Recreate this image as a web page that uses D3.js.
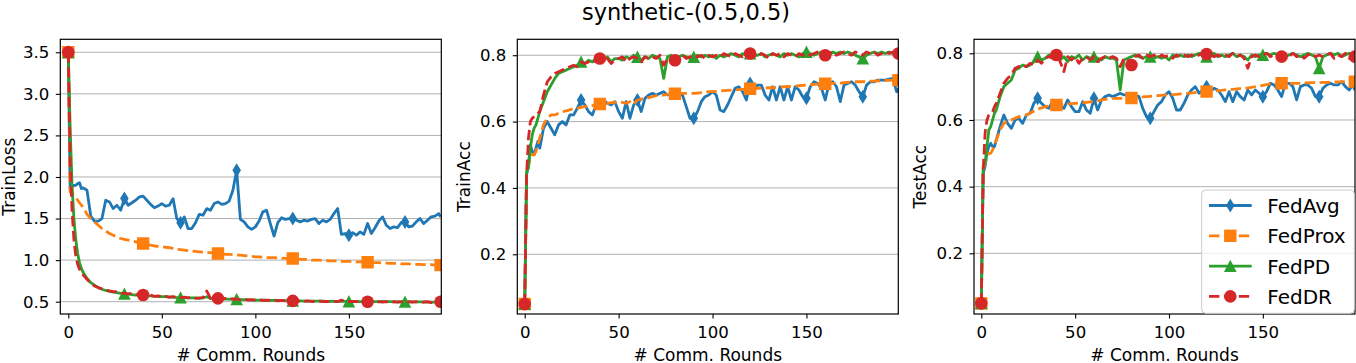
<!DOCTYPE html>
<html>
<head>
<meta charset="utf-8">
<script src="https://cdn.jsdelivr.net/npm/d3@7"></script>
<style>
  body { margin: 0; background: #fff; }
  svg { display: block; font-family: "DejaVu Sans", sans-serif; }
</style>
</head>
<body>
<div id="chart"></div>
<script>
const rounds = [0,1,2,3,4,5,6,7,8,
  10,12,14,16,18,20,22,24,26,28,
  30,32,34,36,38,40,42,44,46,48,
  50,52,54,56,58,60,62,64,66,68,
  70,72,74,76,78,80,82,84,86,88,
  90,92,94,96,98,100,102,104,106,108,
  110,112,114,116,118,120,122,124,126,128,
  130,132,134,136,138,140,142,144,146,148,
  150,152,154,156,158,160,162,164,166,168,
  170,172,174,176,178,180,182,184,186,188,
  190,192,194,196,198,199];

const methods = ["FedAvg", "FedProx", "FedPD", "FedDR"];
const roundTicks = [0, 50, 100, 150];
const lossTicks = [0.5, 1.0, 1.5, 2.0, 2.5, 3.0, 3.5];
const accTicks = [0.2, 0.4, 0.6, 0.8];

const avgMarks = [0, 30, 60, 90, 120, 150, 180];
const proxMarks = [0, 40, 80, 120, 160, 199];
const pdMarks = [0, 30, 60, 90, 120, 150, 180];
const drMarks = [0, 40, 80, 120, 160, 199];

// TrainLoss
const avgLoss = [3.5,1.85,1.88,1.9,1.9,1.92,1.93,1.86,1.87,
  1.84,1.53,1.47,1.47,1.5,1.72,1.7,1.62,1.66,1.6,
  1.74,1.66,1.69,1.72,1.76,1.77,1.72,1.67,1.63,1.65,
  1.68,1.65,1.66,1.74,1.5,1.45,1.52,1.38,1.38,1.45,
  1.55,1.54,1.62,1.6,1.68,1.7,1.67,1.68,1.71,1.84,
  2.08,1.49,1.46,1.4,1.37,1.4,1.47,1.58,1.6,1.44,
  1.29,1.45,1.51,1.49,1.5,1.5,1.48,1.46,1.48,1.47,
  1.49,1.5,1.44,1.48,1.46,1.49,1.56,1.62,1.31,1.32,
  1.3,1.33,1.3,1.34,1.31,1.44,1.32,1.39,1.47,1.52,
  1.42,1.38,1.4,1.39,1.45,1.46,1.4,1.41,1.46,1.5,
  1.44,1.48,1.52,1.53,1.56,1.52];
const proxLoss = [3.5,1.82,1.8,1.78,1.76,1.72,1.69,1.66,1.64,
  1.55,1.5,1.46,1.42,1.38,1.35,1.32,1.3,1.28,1.26,
  1.25,1.24,1.23,1.22,1.21,1.2,1.19,1.18,1.17,1.165,
  1.16,1.155,1.15,1.14,1.13,1.125,1.12,1.115,1.11,1.105,
  1.1,1.095,1.09,1.09,1.085,1.08,1.075,1.07,1.07,1.065,
  1.06,1.06,1.055,1.05,1.045,1.04,1.04,1.035,1.03,1.03,
  1.03,1.025,1.025,1.02,1.02,1.02,1.015,1.01,1.01,1.01,
  1.0,1.0,1.0,0.995,0.995,0.99,0.99,0.99,0.985,0.985,
  0.985,0.98,0.98,0.98,0.975,0.975,0.97,0.97,0.97,0.965,
  0.965,0.96,0.96,0.96,0.955,0.955,0.955,0.95,0.95,0.95,
  0.945,0.945,0.945,0.94,0.94,0.94];
const pdLoss = [3.5,2.6,1.9,1.5,1.25,1.08,0.97,0.9,0.85,
  0.78,0.73,0.7,0.67,0.65,0.635,0.625,0.615,0.61,0.6,
  0.595,0.59,0.585,0.58,0.58,0.575,0.57,0.57,0.565,0.565,
  0.56,0.56,0.555,0.555,0.55,0.55,0.55,0.545,0.545,0.545,
  0.54,0.545,0.56,0.54,0.535,0.535,0.535,0.53,0.53,0.53,
  0.53,0.525,0.525,0.525,0.52,0.52,0.52,0.52,0.515,0.515,
  0.515,0.515,0.512,0.512,0.51,0.51,0.51,0.51,0.508,0.508,
  0.507,0.507,0.506,0.506,0.505,0.505,0.505,0.504,0.504,0.503,
  0.503,0.503,0.502,0.502,0.502,0.501,0.501,0.5,0.5,0.5,
  0.5,0.5,0.499,0.499,0.499,0.498,0.498,0.498,0.497,0.497,
  0.497,0.496,0.496,0.496,0.495,0.495];
const drLoss = [3.5,2.2,1.6,1.25,1.05,0.95,0.89,0.85,0.82,
  0.77,0.72,0.69,0.67,0.655,0.64,0.63,0.62,0.62,0.605,
  0.6,0.595,0.6,0.585,0.585,0.58,0.575,0.58,0.565,0.57,
  0.56,0.565,0.555,0.56,0.55,0.55,0.555,0.545,0.55,0.54,
  0.545,0.55,0.63,0.54,0.545,0.54,0.535,0.54,0.53,0.535,
  0.53,0.525,0.53,0.52,0.525,0.52,0.525,0.515,0.52,0.515,
  0.52,0.51,0.515,0.51,0.515,0.51,0.505,0.51,0.505,0.51,
  0.505,0.5,0.51,0.5,0.505,0.5,0.505,0.5,0.52,0.5,
  0.5,0.505,0.5,0.505,0.5,0.5,0.505,0.495,0.5,0.495,
  0.5,0.495,0.5,0.495,0.5,0.495,0.5,0.495,0.5,0.49,
  0.495,0.5,0.49,0.495,0.49,0.5];

// TrainAcc
const avgTrainAcc = [0.05,0.44,0.47,0.53,0.51,0.5,0.52,0.54,0.52,
  0.58,0.6,0.58,0.56,0.59,0.6,0.59,0.62,0.62,0.64,
  0.665,0.65,0.63,0.62,0.65,0.65,0.665,0.655,0.65,0.66,
  0.63,0.61,0.66,0.61,0.65,0.665,0.63,0.67,0.68,0.685,
  0.68,0.685,0.69,0.68,0.685,0.69,0.685,0.68,0.645,0.61,
  0.61,0.63,0.66,0.675,0.68,0.69,0.68,0.635,0.63,0.65,
  0.675,0.7,0.705,0.69,0.665,0.715,0.7,0.71,0.71,0.68,
  0.665,0.705,0.665,0.705,0.665,0.705,0.665,0.705,0.695,0.675,
  0.67,0.705,0.72,0.715,0.7,0.665,0.714,0.72,0.705,0.66,
  0.71,0.715,0.72,0.71,0.69,0.675,0.71,0.72,0.72,0.725,
  0.725,0.725,0.728,0.73,0.69,0.7];
const proxTrainAcc = [0.05,0.45,0.47,0.49,0.5,0.5,0.51,0.53,0.55,
  0.59,0.61,0.62,0.62,0.625,0.63,0.632,0.635,0.64,0.64,
  0.643,0.645,0.647,0.648,0.65,0.653,0.655,0.655,0.657,0.658,
  0.66,0.658,0.655,0.66,0.652,0.665,0.668,0.668,0.672,0.675,
  0.678,0.68,0.68,0.682,0.683,0.684,0.684,0.685,0.685,0.685,
  0.685,0.686,0.687,0.688,0.69,0.69,0.691,0.692,0.693,0.694,
  0.695,0.695,0.696,0.697,0.698,0.699,0.7,0.7,0.7,0.701,
  0.702,0.702,0.703,0.704,0.705,0.705,0.706,0.707,0.708,0.709,
  0.71,0.711,0.712,0.713,0.713,0.714,0.715,0.715,0.716,0.716,
  0.717,0.718,0.719,0.72,0.72,0.72,0.721,0.722,0.722,0.723,
  0.723,0.724,0.724,0.725,0.725,0.725];
const pdTrainAcc = [0.05,0.45,0.46,0.52,0.56,0.58,0.59,0.61,0.63,
  0.66,0.69,0.71,0.73,0.745,0.75,0.755,0.76,0.765,0.77,
  0.78,0.775,0.785,0.78,0.79,0.79,0.785,0.795,0.78,0.79,
  0.79,0.785,0.795,0.79,0.8,0.795,0.785,0.795,0.79,0.8,
  0.795,0.79,0.73,0.795,0.8,0.79,0.795,0.8,0.795,0.79,
  0.795,0.8,0.795,0.8,0.795,0.8,0.79,0.8,0.795,0.8,
  0.805,0.8,0.795,0.805,0.8,0.805,0.8,0.8,0.805,0.795,
  0.8,0.805,0.8,0.795,0.805,0.8,0.805,0.8,0.795,0.805,
  0.81,0.805,0.8,0.805,0.81,0.805,0.8,0.81,0.805,0.81,
  0.805,0.81,0.805,0.8,0.795,0.79,0.8,0.805,0.81,0.805,
  0.81,0.805,0.81,0.805,0.81,0.81];
const drTrainAcc = [0.05,0.44,0.55,0.6,0.61,0.615,0.62,0.625,0.63,
  0.68,0.72,0.735,0.745,0.75,0.755,0.76,0.765,0.77,0.765,
  0.78,0.775,0.78,0.785,0.78,0.79,0.785,0.79,0.775,0.785,
  0.79,0.795,0.78,0.79,0.795,0.79,0.78,0.795,0.79,0.795,
  0.79,0.8,0.77,0.79,0.785,0.785,0.795,0.8,0.79,0.795,
  0.8,0.795,0.8,0.79,0.8,0.795,0.8,0.795,0.805,0.8,
  0.795,0.805,0.8,0.795,0.805,0.805,0.8,0.795,0.805,0.8,
  0.79,0.805,0.8,0.805,0.795,0.805,0.8,0.795,0.805,0.8,
  0.805,0.8,0.805,0.81,0.805,0.8,0.805,0.81,0.8,0.805,
  0.81,0.805,0.8,0.81,0.805,0.8,0.81,0.805,0.81,0.8,
  0.805,0.81,0.805,0.81,0.805,0.805];

// TestAcc
const avgTestAcc = [0.05,0.44,0.46,0.5,0.52,0.53,0.52,0.52,0.54,
  0.58,0.615,0.59,0.575,0.6,0.605,0.59,0.615,0.62,0.65,
  0.665,0.65,0.64,0.635,0.655,0.65,0.64,0.635,0.66,0.64,
  0.625,0.625,0.655,0.63,0.62,0.665,0.63,0.66,0.67,0.675,
  0.67,0.675,0.68,0.675,0.675,0.675,0.675,0.67,0.635,0.61,
  0.605,0.625,0.645,0.655,0.675,0.685,0.665,0.63,0.63,0.65,
  0.675,0.69,0.7,0.68,0.69,0.7,0.685,0.695,0.69,0.675,
  0.655,0.685,0.655,0.685,0.67,0.66,0.69,0.675,0.69,0.68,
  0.67,0.685,0.71,0.705,0.69,0.67,0.71,0.71,0.7,0.66,
  0.7,0.705,0.705,0.695,0.67,0.67,0.695,0.705,0.71,0.705,
  0.705,0.715,0.7,0.69,0.705,0.69];
const proxTestAcc = [0.05,0.45,0.47,0.49,0.5,0.5,0.51,0.525,0.54,
  0.57,0.59,0.597,0.6,0.605,0.61,0.612,0.615,0.62,0.627,
  0.633,0.636,0.64,0.642,0.644,0.645,0.646,0.647,0.648,0.649,
  0.65,0.651,0.652,0.653,0.654,0.655,0.657,0.66,0.662,0.664,
  0.665,0.665,0.665,0.665,0.665,0.666,0.667,0.668,0.669,0.67,
  0.671,0.672,0.673,0.674,0.675,0.675,0.676,0.677,0.678,0.679,
  0.68,0.681,0.682,0.683,0.684,0.685,0.686,0.687,0.688,0.689,
  0.69,0.691,0.692,0.693,0.694,0.695,0.696,0.698,0.7,0.702,
  0.704,0.706,0.708,0.709,0.71,0.71,0.71,0.71,0.71,0.71,
  0.71,0.711,0.711,0.712,0.712,0.712,0.713,0.713,0.713,0.714,
  0.714,0.714,0.715,0.715,0.715,0.715];
const pdTestAcc = [0.05,0.46,0.47,0.52,0.57,0.58,0.6,0.62,0.63,
  0.67,0.7,0.71,0.72,0.75,0.755,0.765,0.76,0.765,0.775,
  0.79,0.78,0.785,0.795,0.79,0.795,0.78,0.79,0.775,0.79,
  0.785,0.795,0.78,0.79,0.785,0.79,0.785,0.78,0.79,0.785,
  0.785,0.78,0.69,0.78,0.785,0.79,0.795,0.79,0.785,0.79,
  0.79,0.785,0.79,0.785,0.79,0.78,0.795,0.79,0.795,0.79,
  0.795,0.79,0.795,0.8,0.795,0.79,0.795,0.8,0.79,0.795,
  0.79,0.795,0.8,0.79,0.795,0.79,0.78,0.795,0.79,0.795,
  0.795,0.8,0.795,0.8,0.795,0.8,0.79,0.795,0.8,0.795,
  0.79,0.795,0.8,0.795,0.79,0.755,0.79,0.795,0.8,0.795,
  0.8,0.79,0.795,0.8,0.79,0.795];
const drTestAcc = [0.05,0.45,0.56,0.6,0.615,0.62,0.625,0.64,0.65,
  0.68,0.71,0.725,0.735,0.755,0.76,0.765,0.76,0.77,0.765,
  0.78,0.77,0.785,0.79,0.785,0.795,0.775,0.745,0.79,0.78,
  0.79,0.77,0.785,0.79,0.78,0.79,0.775,0.785,0.79,0.785,
  0.79,0.785,0.76,0.785,0.78,0.765,0.79,0.795,0.785,0.795,
  0.79,0.795,0.785,0.795,0.79,0.795,0.785,0.795,0.79,0.795,
  0.79,0.795,0.79,0.795,0.8,0.798,0.795,0.79,0.795,0.79,
  0.795,0.79,0.8,0.79,0.795,0.785,0.755,0.79,0.795,0.79,
  0.795,0.8,0.79,0.795,0.79,0.79,0.795,0.79,0.8,0.79,
  0.795,0.785,0.795,0.8,0.79,0.795,0.79,0.795,0.8,0.785,
  0.795,0.79,0.8,0.785,0.795,0.79];

const colors = ["#1f77b4", "#ff7f0e", "#2ca02c", "#d62728"];
const dashes = [null, "10.4,4.5", null, "10.4,4.5"];
const markLists = [avgMarks, proxMarks, pdMarks, drMarks];
const shapes = [
  "M0,-7L4.3,0L0,7L-4.3,0Z",
  "M-6.2,-6.2H6.2V6.2H-6.2Z",
  "M0,-6.4L6.3,6L-6.3,6Z",
  "M6.3,0A6.3,6.3 0 1,1 -6.3,0A6.3,6.3 0 1,1 6.3,0Z"
];

const panels = [
  { label: "TrainLoss", series: [avgLoss, proxLoss, pdLoss, drLoss], yDomain: [0.352, 3.656], ticks: lossTicks, left: 60.3, labelX: 14.5, xDomain: [-4.27, 199.4] },
  { label: "TrainAcc", series: [avgTrainAcc, proxTrainAcc, pdTrainAcc, drTrainAcc], yDomain: [0.02, 0.848], ticks: accTicks, left: 517.3, labelX: 469.5, xDomain: [-3.95, 198.9] },
  { label: "TestAcc", series: [avgTestAcc, proxTestAcc, pdTestAcc, drTestAcc], yDomain: [0.018, 0.842], ticks: accTicks, left: 974, labelX: 926, xDomain: [-3.9, 199.1] }
];

const width = 1356, height = 363;
const plotTop = 39.3, plotBottom = 314, plotW = 381;

const svg = d3.select("#chart").append("svg")
  .attr("width", width)
  .attr("height", height);

svg.append("text")
  .attr("x", 686)
  .attr("y", 20)
  .attr("text-anchor", "middle")
  .style("font-size", "22.5px")
  .text("synthetic-(0.5,0.5)");

panels.forEach((p, pi) => {
  const x = d3.scaleLinear().domain(p.xDomain).range([p.left, p.left + plotW]);
  const y = d3.scaleLinear().domain(p.yDomain).range([plotBottom, plotTop]);
  const g = svg.append("g");

  const clipId = "clip" + pi;
  svg.append("clipPath").attr("id", clipId)
    .append("rect")
    .attr("x", p.left).attr("y", plotTop)
    .attr("width", plotW).attr("height", plotBottom - plotTop);

  // horizontal grid
  g.append("g").selectAll("line")
    .data(p.ticks)
    .join("line")
      .attr("x1", p.left).attr("x2", p.left + plotW)
      .attr("y1", d => y(d)).attr("y2", d => y(d))
      .attr("stroke", "#b0b0b0")
      .attr("stroke-width", 1);

  const plot = g.append("g").attr("clip-path", `url(#${clipId})`);
  const line = d3.line().x(d => x(d[0])).y(d => y(d[1]));

  p.series.forEach((vals, si) => {
    const pts = rounds.map((r, i) => [r, vals[i]]);
    plot.append("path")
      .datum(pts)
      .attr("d", line)
      .attr("fill", "none")
      .attr("stroke", colors[si])
      .attr("stroke-width", 2.8)
      .attr("stroke-linejoin", "round")
      .attr("stroke-dasharray", dashes[si]);

    const marks = markLists[si].map(r => [r, vals[rounds.indexOf(r)]]);
    plot.selectAll(null)
      .data(marks)
      .join("path")
        .attr("d", shapes[si])
        .attr("transform", d => `translate(${x(d[0])},${y(d[1])})`)
        .attr("fill", colors[si]);
  });

  // axes
  const xAxis = g.append("g")
    .attr("transform", `translate(0,${plotBottom})`)
    .call(d3.axisBottom(x).tickValues(roundTicks).tickSize(4.5).tickPadding(8.1));
  const yAxis = g.append("g")
    .attr("transform", `translate(${p.left},0)`)
    .call(d3.axisLeft(y).tickValues(p.ticks).tickFormat(d3.format(".1f")).tickSize(4.5).tickPadding(6.5));
  [xAxis, yAxis].forEach(a => {
    a.select(".domain").remove();
    a.selectAll("line").attr("stroke", "#000").attr("stroke-width", 1.1);
    a.selectAll("text").style("font-size", "16.6px").style("font-family", "DejaVu Sans").attr("fill", "#000");
  });

  g.append("rect")
    .attr("x", p.left).attr("y", plotTop)
    .attr("width", plotW).attr("height", plotBottom - plotTop)
    .attr("fill", "none")
    .attr("stroke", "#000")
    .attr("stroke-width", 1.2);

  g.append("text")
    .attr("x", p.left + plotW / 2)
    .attr("y", 360.5)
    .attr("text-anchor", "middle")
    .style("font-size", "17px")
    .text("# Comm. Rounds");

  g.append("text")
    .attr("transform", `translate(${p.labelX},${(plotTop + plotBottom) / 2}) rotate(-90)`)
    .attr("text-anchor", "middle")
    .style("font-size", "17px")
    .text(p.label);
});

// legend in the last panel
const legend = svg.append("g");
legend.append("rect")
  .attr("x", 1201.7).attr("y", 190)
  .attr("width", 152.6).attr("height", 123.3)
  .attr("rx", 4)
  .attr("fill", "#fff").attr("fill-opacity", 0.8)
  .attr("stroke", "#cccccc").attr("stroke-width", 1);

methods.forEach((m, i) => {
  const cy = 205.5 + i * 30.3;
  legend.append("line")
    .attr("x1", 1209).attr("x2", 1251.7)
    .attr("y1", cy).attr("y2", cy)
    .attr("stroke", colors[i])
    .attr("stroke-width", 2.8)
    .attr("stroke-dasharray", dashes[i]);
  legend.append("path")
    .attr("d", shapes[i])
    .attr("transform", `translate(1230.3,${cy})`)
    .attr("fill", colors[i]);
  legend.append("text")
    .attr("x", 1267.3)
    .attr("y", cy + 7.6)
    .style("font-size", "20px")
    .text(m);
});
</script>
</body>
</html>
